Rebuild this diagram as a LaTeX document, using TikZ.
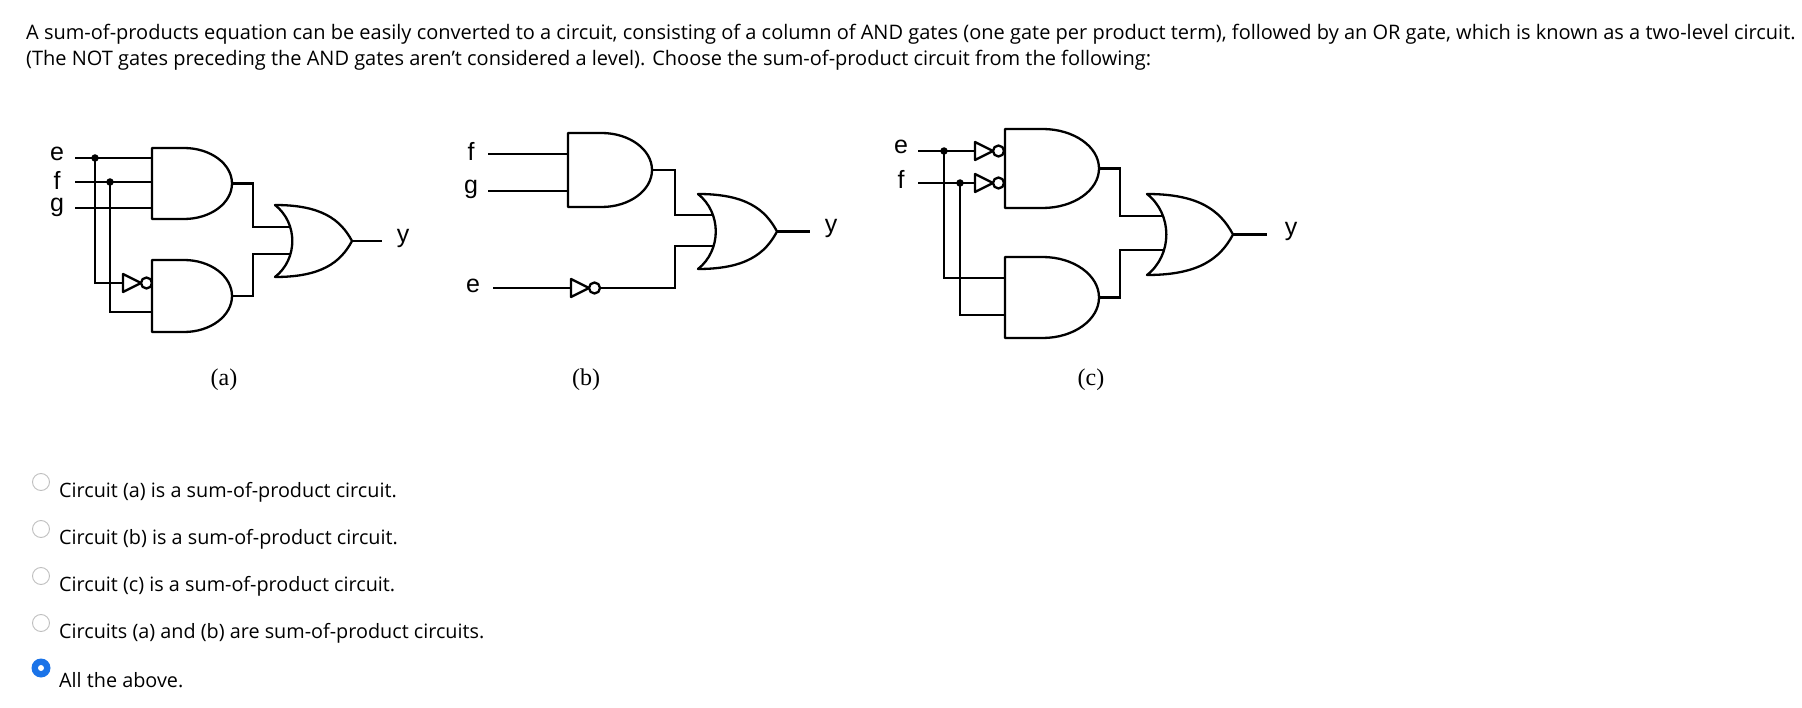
\documentclass[tikz,border=0pt]{standalone}
\usepackage{fontspec}
\setmainfont{Open Sans}
\newfontfamily\lblfont{Liberation Sans}
\newfontfamily\capfont{Liberation Serif}
\begin{document}
\begin{tikzpicture}[x=1pt,y=-1pt,
  gate/.style={line width=2.3pt,fill=white,line join=round},
  wire/.style={line width=2.3pt},
  dot/.style={circle,fill=black,inner sep=0pt,minimum size=7.5pt},
  lbl/.style={font=\lblfont\fontsize{25}{25}\selectfont,inner sep=0pt},
  captxt/.style={font=\capfont\fontsize{24}{24}\selectfont,inner sep=0pt},
  hdr/.style={font=\fontsize{20}{22}\selectfont,inner sep=0pt,anchor=base west},
  opt/.style={font=\fontsize{19.8}{22}\selectfont,inner sep=0pt,anchor=west},
  radio/.style={circle,draw=black!25,line width=0.9pt,minimum size=17pt,inner sep=0pt}]
\newcommand\ANDg[5]{%
 \pgfmathsetmacro\mm{#2+0.4*(#5-#2)}\pgfmathsetmacro\rr{#5-\mm}%
 \pgfmathsetmacro\cc{(#3+#4)/2}\pgfmathsetmacro\hh{(#4-#3)/2}%
 \draw[gate] (#2,#3) -- (\mm,#3) .. controls ({\mm+0.5523*\rr},#3) and (#5,{\cc-0.5523*\hh}) .. (#5,\cc) .. controls (#5,{\cc+0.5523*\hh}) and ({\mm+0.5523*\rr},#4) .. (\mm,#4) -- (#2,#4) -- cycle;
 \coordinate (#1) at (#5,\cc);}
\newcommand\ORg[5]{%
 \pgfmathsetmacro\ww{#5-#2}\pgfmathsetmacro\cc{(#3+#4)/2}\pgfmathsetmacro\hh{#4-#3}%
 \draw[gate] (#2,#3) .. controls ({#2+0.6*\ww},#3) and ({#5-0.15*\ww},{\cc-0.3*\hh}) .. (#5,\cc) .. controls ({#5-0.15*\ww},{\cc+0.3*\hh}) and ({#2+0.6*\ww},#4) .. (#2,#4) .. controls ({#2+0.3*\ww},{\cc+0.25*\hh}) and ({#2+0.3*\ww},{\cc-0.25*\hh}) .. (#2,#3) -- cycle;
 \coordinate (#1) at (#5,\cc);}
\newcommand\NOTg[3]{% name, x, y
 \draw[gate] (#2,#3-9) -- (#2+18,#3) -- (#2,#3+9) -- cycle;
 \draw[gate] (#2+23.5,#3) circle[radius=5.5];
 \coordinate (#1) at (#2+29,#3);}
\path[fill=white] (0,0) rectangle (1802,708);
% header
\node[hdr] (h1) at (26,40) {A sum-of-products equation can be easily converted to a circuit, consisting of a column of AND gates (one gate per product term), followed by an OR gate, which is known as a two-level circuit.};
\node[hdr] (h2) at (26,66) {(The NOT gates preceding the AND gates aren't considered a level). Choose the sum-of-product circuit from the following:};
% ===== (a)
\node[lbl] (ae) at (57,154) {e};
\node[lbl] (af) at (57,180) {f};
\node[lbl] (ag) at (57,207) {g};
\coordinate (ae0) at (75,158); \coordinate (af0) at (75,182); \coordinate (ag0) at (75,208);
\coordinate (aed) at (95,158); \coordinate (afd) at (110,182);
\draw[wire] (ae0) -- (152,158); \draw[wire] (af0) -- (152,182); \draw[wire] (ag0) -- (152,208);
\draw[wire] (aed) |- (123,283); \draw[wire] (afd) |- (152,312);
\NOTg{anot}{123}{283}
\draw[wire] (anot) -- (152,283);
\node[dot] at (aed) {}; \node[dot] at (afd) {};
\ANDg{aA1}{152}{148}{219}{232}
\ANDg{aA2}{152}{260}{332}{232}
\draw[wire] (aA1) -- (253,183.5) -- (253,227) -- (290,227);
\draw[wire] (aA2) -- (253,296) -- (253,254) -- (290,254);
\ORg{aO}{275}{205}{277}{352}
\coordinate (ay0) at (382,241);
\draw[wire] (aO) -- (ay0);
\node[lbl] (ay) at (403,238) {y};
\node[captxt] (ca) at (224,380) {(a)};
% ===== (b)
\node[lbl] (bf) at (471,151) {f};
\node[lbl] (bg) at (471,189) {g};
\node[lbl] (be) at (473,286) {e};
\coordinate (bf0) at (488,154); \coordinate (bg0) at (488,191); \coordinate (be0) at (493,288);
\draw[wire] (bf0) -- (568,154); \draw[wire] (bg0) -- (568,191);
\draw[wire] (be0) -- (571,288);
\NOTg{bnot}{571}{288}
\ANDg{bA}{568}{133}{207}{652}
\draw[wire] (bA) -- (675,170) -- (675,215) -- (715,215);
\draw[wire] (bnot) -- (675,288) -- (675,246) -- (715,246);
\ORg{bO}{698}{194}{269}{777}
\coordinate (by0) at (810,231.5);
\draw[wire] (bO) -- (by0);
\node[lbl] (by) at (831,228) {y};
\node[captxt] (cb) at (586,380) {(b)};
% ===== (c)
\node[lbl] (ce) at (901,147) {e};
\node[lbl] (cf) at (901,179) {f};
\coordinate (ce0) at (918,151); \coordinate (cf0) at (918,183);
\coordinate (ced) at (944,151); \coordinate (cfd) at (960,183);
\draw[wire] (ce0) -- (975,151); \draw[wire] (cf0) -- (975,183);
\NOTg{cn1}{975}{151}
\NOTg{cn2}{975}{183}
\draw[wire] (ced) |- (1005,278); \draw[wire] (cfd) |- (1005,315);
\node[dot] at (ced) {}; \node[dot] at (cfd) {};
\ANDg{cA1}{1005}{129}{208}{1099}
\ANDg{cA2}{1005}{257}{338}{1099}
\draw[wire] (cA1) -- (1120,168.5) -- (1120,216) -- (1165,216);
\draw[wire] (cA2) -- (1120,297.5) -- (1120,250) -- (1165,250);
\ORg{cO}{1147}{194}{275}{1233}
\coordinate (cy0) at (1267,234.5);
\draw[wire] (cO) -- (cy0);
\node[lbl] (cy) at (1291,231) {y};
\node[captxt] (cc) at (1091,380) {(c)};
% ===== options
\foreach \i/\t in {0/{Circuit (a) is a sum-of-product circuit.},1/{Circuit (b) is a sum-of-product circuit.},2/{Circuit (c) is a sum-of-product circuit.},3/{Circuits (a) and (b) are sum-of-product circuits.}}{
  \node[radio] (r\i) at (41,482+47*\i) {};
  \node[opt] (o\i) at (59,492+47*\i) {\t};
}
\node[circle,fill={rgb,255:red,26;green,115;blue,232},minimum size=19pt,inner sep=0pt] (r4) at (41,668) {};
\node[circle,fill=white,minimum size=6pt,inner sep=0pt] at (r4) {};
\node[opt] (o4) at (59,680) {All the above.};
\end{tikzpicture}
\end{document}
